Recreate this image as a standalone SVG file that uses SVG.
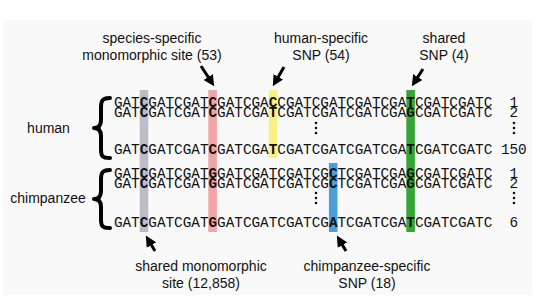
<svg xmlns="http://www.w3.org/2000/svg" width="560" height="303" viewBox="0 0 560 303">
<defs>
<style>
.lbl{font-family:"Liberation Sans",Arial,sans-serif;font-size:14px;fill:#111;text-anchor:middle}
.seq{font-family:"Liberation Mono","Courier New",monospace;font-size:14.33px;fill:#111}
.b{font-weight:bold}
.num{font-family:"Liberation Mono","Courier New",monospace;font-size:14.33px;fill:#111}
.arrow{stroke:#000;stroke-width:3;fill:none;marker-end:url(#ah)}
.brace{stroke:#000;stroke-width:4;fill:none;stroke-linecap:round;stroke-linejoin:round}
</style>
<marker id="ah" markerUnits="userSpaceOnUse" markerWidth="11" markerHeight="11" viewBox="0 0 10 10" refX="6" refY="5" orient="auto">
<path d="M0,0 L10,5 L0,10 z" fill="#000"/>
</marker>
</defs>
<rect x="0" y="0" width="560" height="303" fill="#fff"/>
<rect x="3" y="20" width="529" height="275" fill="#f9f9f9"/>

<g id="highlights">
<rect x="139.7" y="90" width="8.6" height="142" fill="#bcbcc8"/>
<rect x="208.3" y="90" width="8.6" height="142" fill="#f0a4a6"/>
<rect x="268.7" y="90" width="8.6" height="68" fill="#f8f080"/>
<rect x="328.9" y="163" width="8.6" height="69" fill="#4a9fdc"/>
<rect x="406.3" y="90" width="8.6" height="142" fill="#36a536"/>
</g>

<g id="human">
<text class="lbl" x="48.5" y="133">human</text>
<path class="brace" d="M110,98 C102,98 101,101 101,108 L101,120 C101,126 98,128 94,128 C98,128 101,130 101,136 L101,149 C101,156 102,158 110,158"/>
<text class="seq" x="113.9" y="106.5">GAT<tspan class="b">C</tspan>GATCGAT<tspan class="b">C</tspan>GATCGA<tspan class="b">C</tspan>CGATCGATCGATCGA<tspan class="b">T</tspan>CGATCGATC</text>
<text class="seq" x="113.9" y="116.5">GAT<tspan class="b">C</tspan>GATCGAT<tspan class="b">C</tspan>GATCGA<tspan class="b">T</tspan>CGATCGATCGATCGA<tspan class="b">G</tspan>CGATCGATC</text>
<text class="seq" x="113.9" y="154">GAT<tspan class="b">C</tspan>GATCGAT<tspan class="b">C</tspan>GATCGA<tspan class="b">T</tspan>CGATCGATCGATCGA<tspan class="b">T</tspan>CGATCGATC</text>
<text class="num" x="509.5" y="106.5">1</text>
<text class="num" x="509.5" y="116.5">2</text>
<text class="num" x="500.9" y="154">150</text>
<g fill="#111">
<circle cx="316" cy="123" r="1.3"/><circle cx="316" cy="128" r="1.3"/><circle cx="316" cy="133" r="1.3"/>
<circle cx="514" cy="123" r="1.3"/><circle cx="514" cy="128" r="1.3"/><circle cx="514" cy="133" r="1.3"/>
</g>
</g>

<g id="chimpanzee">
<text class="lbl" x="48" y="203">chimpanzee</text>
<path class="brace" d="M110,170 C102,170 101,173 101,180 L101,191 C101,197 98,199 94,199 C98,199 101,201 101,207 L101,219 C101,226 102,228 110,228"/>
<text class="seq" x="113.9" y="178">GAT<tspan class="b">C</tspan>GATCGAT<tspan class="b">G</tspan>GATCGATCGATCG<tspan class="b">C</tspan>TCGATCGA<tspan class="b">G</tspan>CGATCGATC</text>
<text class="seq" x="113.9" y="187.5">GAT<tspan class="b">C</tspan>GATCGAT<tspan class="b">G</tspan>GATCGATCGATCG<tspan class="b">C</tspan>TCGATCGA<tspan class="b">G</tspan>CGATCGATC</text>
<text class="seq" x="113.9" y="226.5">GAT<tspan class="b">C</tspan>GATCGAT<tspan class="b">G</tspan>GATCGATCGATCG<tspan class="b">A</tspan>TCGATCGA<tspan class="b">T</tspan>CGATCGATC</text>
<text class="num" x="509.5" y="178">1</text>
<text class="num" x="509.5" y="187.5">2</text>
<text class="num" x="509.5" y="226.5">6</text>
<g fill="#111">
<circle cx="316" cy="193" r="1.3"/><circle cx="316" cy="198" r="1.3"/><circle cx="316" cy="203" r="1.3"/>
<circle cx="514" cy="193" r="1.3"/><circle cx="514" cy="198" r="1.3"/><circle cx="514" cy="203" r="1.3"/>
</g>
</g>

<g id="label-species-specific">
<text class="lbl" x="152" y="42.5">species-specific</text>
<text class="lbl" x="152" y="59.5">monomorphic site (53)</text>
</g>
<g id="label-human-specific">
<text class="lbl" x="321" y="42.5">human-specific</text>
<text class="lbl" x="321" y="59.5">SNP (54)</text>
</g>
<g id="label-shared-snp">
<text class="lbl" x="444" y="42.5">shared</text>
<text class="lbl" x="444" y="59.5">SNP (4)</text>
</g>
<g id="label-shared-monomorphic">
<text class="lbl" x="201" y="271">shared monomorphic</text>
<text class="lbl" x="201" y="288">site (12,858)</text>
</g>
<g id="label-chimp-specific">
<text class="lbl" x="367" y="271">chimpanzee-specific</text>
<text class="lbl" x="367" y="288">SNP (18)</text>
</g>

<g id="connectors">
<line class="arrow" x1="201" y1="66" x2="211.8" y2="82.6"/>
<line class="arrow" x1="284" y1="67" x2="275" y2="82.5"/>
<line class="arrow" x1="423" y1="69" x2="414.2" y2="82.6"/>
<line class="arrow" x1="155" y1="251" x2="148.1" y2="239.4"/>
<line class="arrow" x1="346" y1="251" x2="339.1" y2="239.4"/>
</g>
</svg>
